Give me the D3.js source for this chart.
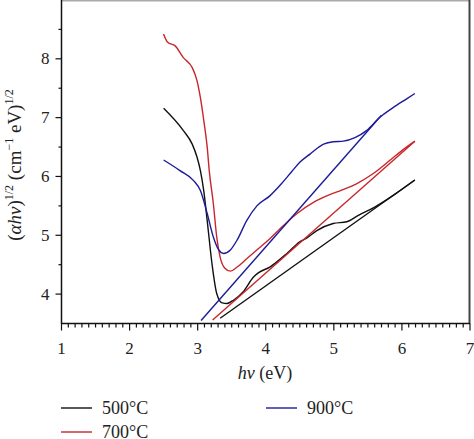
<!DOCTYPE html>
<html><head><meta charset="utf-8">
<script src="https://cdn.jsdelivr.net/npm/d3@7"></script>
<style>body{margin:0;background:#fff}svg{display:block}</style>
</head><body><svg id="c" width="474" height="439"></svg>
<script>
// Data
const series = ["500°C", "700°C", "900°C"];
const colors = ["#111111", "#c8262b", "#1c1c99"];
const xTicks = [1, 2, 3, 4, 5, 6, 7];
const yTicks = [4, 5, 6, 7, 8];

const curve500 = [[2.5,7.16],[2.79,6.78],[2.92,6.55],[2.99,6.33],[3.04,6.10],[3.09,5.75],[3.14,5.25],[3.21,4.52],[3.28,4.01],[3.36,3.85],[3.43,3.84],[3.53,3.90],[3.67,4.04],[3.82,4.29],[3.89,4.36],[4.06,4.46],[4.31,4.69],[4.5,4.89],[4.6,4.95],[4.75,5.08],[4.99,5.20],[5.19,5.23],[5.36,5.34],[5.6,5.48],[5.9,5.70],[6.19,5.94]];
const curve700 = [[2.5,8.42],[2.56,8.28],[2.67,8.22],[2.79,8.02],[2.92,7.85],[2.99,7.63],[3.04,7.34],[3.09,6.95],[3.14,6.5],[3.17,6.1],[3.23,5.54],[3.28,4.97],[3.33,4.63],[3.40,4.44],[3.48,4.39],[3.58,4.46],[3.72,4.60],[3.89,4.77],[4.06,4.94],[4.21,5.11],[4.46,5.37],[4.70,5.56],[4.94,5.69],[5.1,5.76],[5.34,5.88],[5.58,6.05],[5.82,6.27],[6.0,6.44],[6.19,6.60]];
const curve900 = [[2.5,6.28],[2.74,6.10],[2.94,5.93],[3.04,5.76],[3.14,5.37],[3.23,4.97],[3.31,4.75],[3.38,4.69],[3.48,4.75],[3.58,4.92],[3.72,5.25],[3.87,5.50],[4.06,5.67],[4.21,5.85],[4.38,6.08],[4.50,6.24],[4.65,6.38],[4.85,6.55],[4.99,6.59],[5.14,6.60],[5.31,6.66],[5.48,6.78],[5.68,7.01],[5.87,7.17],[6.07,7.32],[6.19,7.41]];
const fit500 = [[3.33,3.59],[6.19,5.94]];
const fit700 = [[3.22,3.56],[6.19,6.60]];
const fit900 = [[3.05,3.55],[5.70,7.04]];

const curves = [curve500, curve700, curve900];
const fits = [fit500, fit700, fit900];

const FONT = "Liberation Serif";
const svg = d3.select("#c");
const x = d3.scaleLinear().domain([1, 7]).range([61.5, 470]);
const y = d3.scaleLinear().domain([3.5, 9]).range([323.5, 0]);

svg.append("line").attr("x1", 61.5).attr("x2", 470).attr("y1", 0.5).attr("y2", 0.5).attr("stroke", "#aaa").attr("stroke-width", 2);
svg.append("line").attr("x1", 469.5).attr("x2", 469.5).attr("y1", 0).attr("y2", 324).attr("stroke", "#444").attr("stroke-width", 2);

const line = d3.line().x(d => x(d[0])).y(d => y(d[1])).curve(d3.curveMonotoneX);
const lin = d3.line().x(d => x(d[0])).y(d => y(d[1]));

curves.forEach((c, i) => {
  svg.append("path").attr("d", line(c)).attr("fill", "none").attr("stroke", colors[i]).attr("stroke-width", 1.4);
  svg.append("path").attr("d", lin(fits[i])).attr("fill", "none").attr("stroke", colors[i]).attr("stroke-width", 1.4);
});

const gx = svg.append("g").attr("transform", "translate(0,323.5)");
gx.append("line").attr("x1", 61.5).attr("x2", 470).attr("stroke", "#111").attr("stroke-width", 1.5);
const minorX = d3.range(10, 71).map(v => v / 10);
gx.selectAll(".mx").data(minorX).join("line")
  .attr("x1", d => x(d)).attr("x2", d => x(d)).attr("y1", 0)
  .attr("y2", d => Math.abs(d - Math.round(d)) < 1e-6 ? 7 : 4)
  .attr("stroke", "#111").attr("stroke-width", 1.2);
gx.selectAll(".lx").data(xTicks).join("text")
  .style("font-family", FONT).style("font-size", "17px")
  .attr("x", d => x(d)).attr("y", 30).attr("text-anchor", "middle").attr("fill", "#222").text(d => d);

const gy = svg.append("g").attr("transform", "translate(61.5,0)");
gy.append("line").attr("y1", 0).attr("y2", 324).attr("stroke", "#111").attr("stroke-width", 1.5);
const minorY = d3.range(8, 18).map(v => v / 2);
gy.selectAll(".my").data(minorY).join("line")
  .attr("y1", d => y(d)).attr("y2", d => y(d)).attr("x1", 0)
  .attr("x2", d => Number.isInteger(d) ? -6 : -3)
  .attr("stroke", "#111").attr("stroke-width", 1.2);
gy.selectAll(".ly").data(yTicks).join("text")
  .style("font-family", FONT).style("font-size", "17px")
  .attr("x", -12).attr("y", d => y(d) + 5.5).attr("text-anchor", "end").attr("fill", "#222").text(d => d);

const xl = svg.append("text").style("font-family", FONT).style("font-size", "18px").attr("x", 265).attr("y", 379).attr("text-anchor", "middle").attr("fill", "#222");
xl.append("tspan").style("font-style", "italic").text("hν");
xl.append("tspan").text(" (eV)");

const yl = svg.append("text").style("font-family", FONT).style("font-size", "19px").attr("transform", "translate(21,165) rotate(-90)").attr("text-anchor", "middle").attr("fill", "#222");
yl.append("tspan").text("(");
yl.append("tspan").style("font-style", "italic").text("αhν");
yl.append("tspan").text(")");
yl.append("tspan").style("font-size", "12px").attr("dy", -8).text("1/2");
yl.append("tspan").attr("dy", 8).text(" (cm");
yl.append("tspan").style("font-size", "12px").attr("dy", -8).text("−1");
yl.append("tspan").attr("dy", 8).text(" eV)");
yl.append("tspan").style("font-size", "12px").attr("dy", -8).text("1/2");

const legendPos = [[61, 408], [61, 432], [266, 408]];
series.forEach((s, i) => {
  const [lx, ly] = legendPos[i];
  svg.append("line").attr("x1", lx).attr("x2", lx + 31).attr("y1", ly).attr("y2", ly).attr("stroke", colors[i]).attr("stroke-width", 1.4);
  svg.append("text").style("font-family", FONT).style("font-size", "18px").attr("x", lx + 41).attr("y", ly + 6).attr("fill", "#222").text(s);
});
</script></body></html>
